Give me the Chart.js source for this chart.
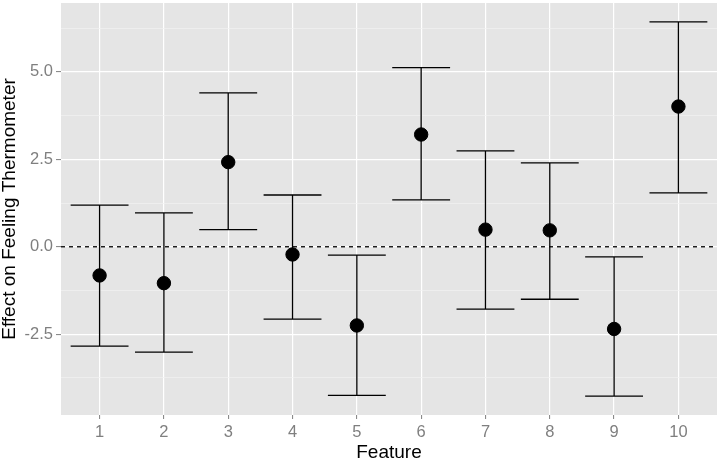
<!DOCTYPE html>
<html>
<head>
<meta charset="utf-8">
<script src="https://cdn.jsdelivr.net/npm/chart.js@4.4.1/dist/chart.umd.min.js"></script>
<style>
  html, body { margin: 0; padding: 0; background: #ffffff; }
  #wrap { width: 720px; height: 463px; }
</style>
</head>
<body>
<div id="wrap"><canvas id="chart"></canvas></div>
<script>
// values
var features = [1, 2, 3, 4, 5, 6, 7, 8, 9, 10];
var estimates = [-0.82, -1.04, 2.42, -0.22, -2.25, 3.21, 0.49, 0.47, -2.35, 4.01];
var lowerCI = [-2.84, -3.01, 0.49, -2.07, -4.25, 1.34, -1.78, -1.50, -4.27, 1.54];
var upperCI = [1.19, 0.97, 4.40, 1.48, -0.24, 5.12, 2.74, 2.40, -0.29, 6.43];
var yTicks = [-3.75, -2.5, -1.25, 0, 1.25, 2.5, 3.75, 5, 6.25];
var yMajor = [-2.5, 0, 2.5, 5];

var points = [];
for (var i = 0; i < features.length; i++) {
    points.push({ x: features[i], y: estimates[i] });
}

function isMajor(v) {
    return yMajor.indexOf(v) >= 0;
}

// grey panel behind everything
var panelPlugin = {
    id: 'panel',
    beforeDraw: function (chart) {
        var a = chart.chartArea;
        var ctx = chart.ctx;
        ctx.save();
        ctx.fillStyle = '#E5E5E5';
        ctx.fillRect(a.left, a.top, a.right - a.left, a.bottom - a.top);
        ctx.restore();
    }
};

// error bars + dashed zero line
var errorBarPlugin = {
    id: 'errorBars',
    beforeDatasetsDraw: function (chart) {
        var xs = chart.scales.x;
        var ys = chart.scales.y;
        var a = chart.chartArea;
        var ctx = chart.ctx;
        ctx.save();
        ctx.strokeStyle = '#000000';
        ctx.lineWidth = 1.3;

        var y0 = ys.getPixelForValue(0);
        ctx.setLineDash([4, 4]);
        ctx.beginPath();
        ctx.moveTo(a.left, y0);
        ctx.lineTo(a.right, y0);
        ctx.stroke();
        ctx.setLineDash([]);

        for (var i = 0; i < features.length; i++) {
            var x = xs.getPixelForValue(features[i]);
            var xl = xs.getPixelForValue(features[i] - 0.45);
            var xr = xs.getPixelForValue(features[i] + 0.45);
            var yl = ys.getPixelForValue(lowerCI[i]);
            var yu = ys.getPixelForValue(upperCI[i]);
            ctx.beginPath();
            ctx.moveTo(x, yl);
            ctx.lineTo(x, yu);
            ctx.moveTo(xl, yl);
            ctx.lineTo(xr, yl);
            ctx.moveTo(xl, yu);
            ctx.lineTo(xr, yu);
            ctx.stroke();
        }
        ctx.restore();
    }
};

new Chart(document.getElementById('chart'), {
    type: 'scatter',
    data: {
        datasets: [{
            data: points,
            backgroundColor: '#000000',
            borderColor: '#000000',
            pointRadius: 6.7,
            pointHoverRadius: 6.7
        }]
    },
    options: {
        responsive: true,
        maintainAspectRatio: false,
        animation: false,
        layout: { autoPadding: false, padding: { top: 3, right: 3, left: 0, bottom: 0 } },
        plugins: {
            legend: { display: false },
            tooltip: { enabled: false }
        },
        scales: {
            x: {
                type: 'linear',
                min: 0.4,
                max: 10.6,
                afterBuildTicks: function (scale) {
                    scale.ticks = features.map(function (v) { return { value: v }; });
                },
                afterFit: function (scale) {
                    scale.height = 48;
                    scale.paddingLeft = 0;
                    scale.paddingRight = 0;
                },
                grid: {
                    color: '#FFFFFF',
                    lineWidth: 1.2,
                    tickColor: '#7F7F7F',
                    tickLength: 4,
                    tickWidth: 1
                },
                border: { display: false },
                ticks: {
                    color: '#7F7F7F',
                    padding: 4,
                    maxRotation: 0,
                    font: { family: 'Liberation Sans', size: 16.5 },
                    callback: function (v) { return String(v); }
                },
                title: {
                    display: true,
                    text: 'Feature',
                    color: '#000000',
                    padding: 0,
                    font: { family: 'Liberation Sans', size: 19, lineHeight: 1.05 }
                }
            },
            y: {
                type: 'linear',
                min: -4.81,
                max: 6.97,
                afterBuildTicks: function (scale) {
                    scale.ticks = yTicks.map(function (v) { return { value: v }; });
                },
                afterFit: function (scale) {
                    scale.width = 61;
                    scale.paddingTop = 0;
                    scale.paddingBottom = 0;
                },
                grid: {
                    color: function (c) { return isMajor(c.tick.value) ? '#FFFFFF' : '#F2F2F2'; },
                    lineWidth: function (c) { return isMajor(c.tick.value) ? 1.2 : 0.7; },
                    tickColor: function (c) { return isMajor(c.tick.value) ? '#7F7F7F' : 'rgba(0,0,0,0)'; },
                    tickLength: 5,
                    tickWidth: 1
                },
                border: { display: false },
                ticks: {
                    color: '#7F7F7F',
                    padding: 3,
                    font: { family: 'Liberation Sans', size: 16.5 },
                    callback: function (v) { return isMajor(v) ? v.toFixed(1) : ''; }
                },
                title: {
                    display: true,
                    text: 'Effect on Feeling Thermometer',
                    color: '#000000',
                    padding: 0,
                    font: { family: 'Liberation Sans', size: 19, lineHeight: 1.0 }
                }
            }
        }
    },
    plugins: [panelPlugin, errorBarPlugin]
});
</script>
</body>
</html>
